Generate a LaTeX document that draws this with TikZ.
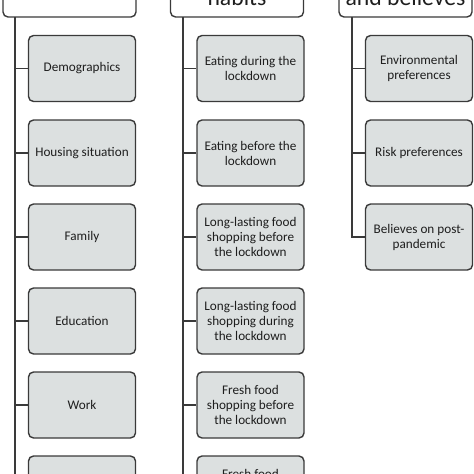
\documentclass[tikz,border=0pt]{standalone}
\usepackage{fontspec}
\setmainfont{Carlito}
\begin{document}
\begin{tikzpicture}[x=1pt,y=-1pt,
  box/.style={draw=linec, fill=boxfill, line width=1.4pt, rounded corners=5pt,
    minimum width=107pt, minimum height=66pt, inner sep=0pt, align=center,
    font=\fontsize{13.2}{15}\selectfont, text=textc},
  headbox/.style={draw=linec, fill=white, line width=1.4pt, rounded corners=5pt,
    minimum width=133pt, minimum height=60pt, inner sep=0pt},
  headtext/.style={font=\fontsize{23.7}{28}\selectfont, text=textc, inner sep=0pt, anchor=base},
  link/.style={draw=linec, line width=1.3pt}]
\definecolor{linec}{HTML}{3A3A3A}
\definecolor{boxfill}{HTML}{DCE0E0}
\definecolor{textc}{HTML}{1E1E1E}
\useasboundingbox (0,0) rectangle (474,474);
\clip (0,0) rectangle (474,474);
% headers
\node[headbox] (h1) at (69.5,-13) {};
\node[headbox] (h2) at (237,-13) {};
\node[headbox] (h3) at (405.5,-13) {};
\node[headtext] (ht2) at (237,5) {habits};
\node[headtext] (ht3) at (405.5,5.5) {and believes};
% trunk points
\coordinate (t1) at (15,17);
\coordinate (t2) at (183,17);
\coordinate (t3) at (352,17);
\coordinate (e1) at (15,480);
\coordinate (e2) at (183,480);
% column 1
\node[box] (a1) at (82,68.5) {Demographics};
\node[box] (a2) at (82,153) {Housing situation};
\node[box] (a3) at (82,237) {Family};
\node[box] (a4) at (82,321) {Education};
\node[box] (a5) at (82,405) {Work};
\node[box] (a6) at (82,489) {};
% column 2
\node[box] (b1) at (250.5,68.5) {Eating during the\\lockdown};
\node[box] (b2) at (250.5,153) {Eating before the\\lockdown};
\node[box] (b3) at (250.5,237) {Long-lasting food\\shopping before\\the lockdown};
\node[box] (b4) at (250.5,321) {Long-lasting food\\shopping during\\the lockdown};
\node[box] (b5) at (250.5,405) {Fresh food\\shopping before\\the lockdown};
\node[box] (b6) at (250.5,489) {Fresh food\\shopping during\\the lockdown};
% column 3
\node[box] (c1) at (419,68.5) {Environmental\\preferences};
\node[box] (c2) at (419,153) {Risk preferences};
\node[box] (c3) at (419,237) {Believes on post-\\pandemic};
% trunks
\draw[link] (t1) -- (e1);
\draw[link] (t2) -- (e2);
\draw[link] (t3) |- (c3.west);
% stubs
\foreach \n in {a1,a2,a3,a4,a5} \draw[link] (t1 |- \n.west) -- (\n.west);
\foreach \n in {b1,b2,b3,b4,b5} \draw[link] (t2 |- \n.west) -- (\n.west);
\foreach \n in {c1,c2} \draw[link] (t3 |- \n.west) -- (\n.west);
\end{tikzpicture}
\end{document}
